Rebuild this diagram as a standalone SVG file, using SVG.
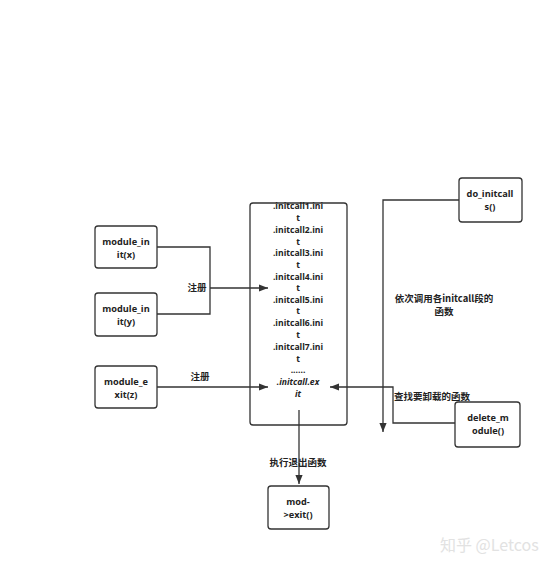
<svg xmlns="http://www.w3.org/2000/svg" width="560" height="568" viewBox="0 0 560 568">
<style>
.box{fill:#fff;stroke:#333;stroke-width:1.3}
.t{font-family:"Open Sans","Noto Sans CJK SC",sans-serif;font-size:9.2px;font-weight:bold;fill:#222;text-anchor:middle}
.s{font-size:8.6px}
.l{font-family:"Noto Sans CJK SC","Open Sans",sans-serif;font-size:9.5px;font-weight:bold;fill:#222}
.c{fill:none;stroke:#333;stroke-width:1.3}
</style>
<defs>
<marker id="a" viewBox="0 0 10 10" refX="10" refY="5" markerWidth="9" markerHeight="9" markerUnits="userSpaceOnUse" orient="auto"><path d="M0,1L10,5L0,9z" fill="#333"/></marker>
</defs>
<rect width="560" height="568" fill="#fff"/>
<g id="initcall">
<rect class="box" x="250" y="203" width="97" height="222" rx="3"/>
<text class="t s" x="298" y="209">.initcall1.ini</text>
<text class="t s" x="298" y="221">t</text>
<text class="t s" x="298" y="233">.initcall2.ini</text>
<text class="t s" x="298" y="244.5">t</text>
<text class="t s" x="298" y="256">.initcall3.ini</text>
<text class="t s" x="298" y="267.5">t</text>
<text class="t s" x="298" y="279.5">.initcall4.ini</text>
<text class="t s" x="298" y="291">t</text>
<text class="t s" x="298" y="302.5">.initcall5.ini</text>
<text class="t s" x="298" y="314">t</text>
<text class="t s" x="298" y="326">.initcall6.ini</text>
<text class="t s" x="298" y="338">t</text>
<text class="t s" x="298" y="350">.initcall7.ini</text>
<text class="t s" x="298" y="361.5">t</text>
<text class="t s" x="298" y="373">......</text>
<text class="t s" x="298" y="384.5" font-style="italic">.initcall.ex</text>
<text class="t s" x="298" y="396.5" font-style="italic">it</text>
</g>
<g id="module_init_x">
<rect class="box" x="95" y="226" width="62" height="42" rx="3"/>
<text class="t" x="126" y="245">module_in</text>
<text class="t" x="126" y="258">it(x)</text>
</g>
<g id="module_init_y">
<rect class="box" x="95" y="293" width="62" height="43" rx="3"/>
<text class="t" x="126" y="312">module_in</text>
<text class="t" x="126" y="325">it(y)</text>
</g>
<g id="module_exit_z">
<rect class="box" x="95" y="366" width="62" height="42" rx="3"/>
<text class="t" x="126" y="385">module_e</text>
<text class="t" x="126" y="398">xit(z)</text>
</g>
<g id="do_initcalls">
<rect class="box" x="459" y="178" width="63" height="44" rx="3"/>
<text class="t" x="490" y="197">do_initcall</text>
<text class="t" x="490" y="210">s()</text>
</g>
<g id="delete_module">
<rect class="box" x="455" y="402" width="65" height="45" rx="3"/>
<text class="t" x="488" y="421">delete_m</text>
<text class="t" x="488" y="434">odule()</text>
</g>
<g id="mod_exit">
<rect class="box" x="268" y="486" width="61" height="43" rx="3"/>
<text class="t" x="298" y="505">mod-</text>
<text class="t" x="298" y="518">&gt;exit()</text>
</g>
<g id="connectors">
<path class="c" d="M157,247H210V314H157" />
<path class="c" d="M210,288H268" marker-end="url(#a)"/>
<path class="c" d="M157,387H268" marker-end="url(#a)"/>
<path class="c" d="M459,200H383V432" marker-end="url(#a)"/>
<path class="c" d="M455,423H393V387H330" marker-end="url(#a)"/>
<path class="c" d="M299,410V484" marker-end="url(#a)"/>
<text class="l" x="197" y="291" text-anchor="middle">注册</text>
<text class="l" x="200" y="380" text-anchor="middle">注册</text>
<text class="l" x="444" y="302" text-anchor="middle">依次调用各initcall段的</text>
<text class="l" x="444" y="315" text-anchor="middle">函数</text>
<text class="l" x="394" y="400">查找要卸载的函数</text>
<text class="l" x="298" y="466" text-anchor="middle">执行退出函数</text>
</g>
<text x="440" y="551" font-family="Noto Sans CJK SC,Open Sans,sans-serif" font-size="16" fill="#e2e2e2">知乎 @Letcos</text>
</svg>
